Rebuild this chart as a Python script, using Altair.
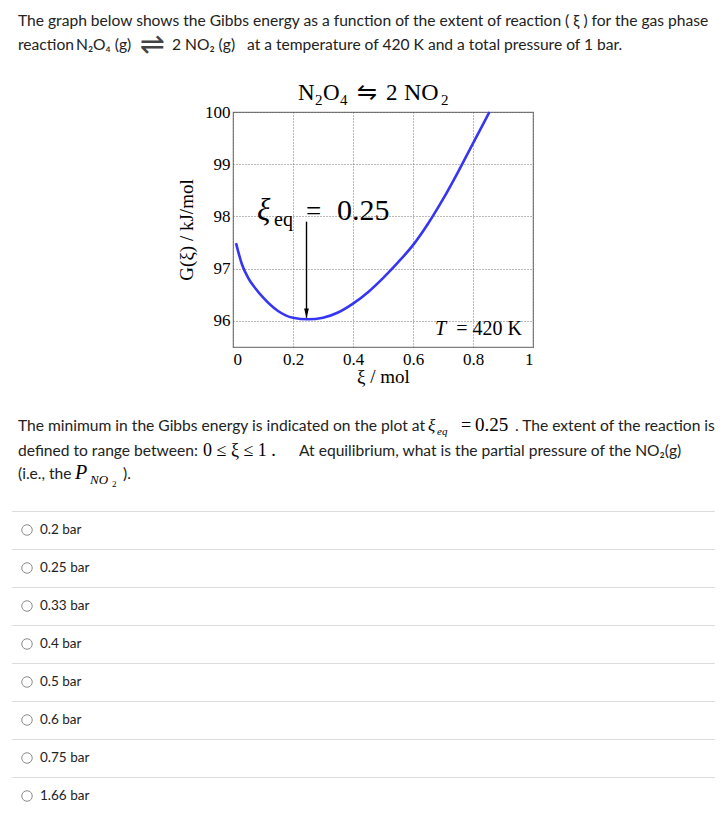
import altair as alt
import pandas as pd

# ---------------- values ----------------
xi = [0.01, 0.03, 0.05, 0.075, 0.1, 0.15, 0.2, 0.25, 0.3, 0.35, 0.4, 0.45,
      0.5, 0.55, 0.6, 0.65, 0.7, 0.75, 0.8, 0.855]
G = [97.49, 97.08, 96.83, 96.62, 96.45, 96.19, 96.06, 96.03, 96.06, 96.16,
     96.33, 96.55, 96.82, 97.12, 97.45, 97.86, 98.33, 98.85, 99.40, 100.0]

arrow_x = [0.245]
arrow_top = [97.9]
arrow_tip = [96.06]

x_ticks = [0, 0.2, 0.4, 0.6, 0.8, 1]
y_ticks = [96, 97, 98, 99, 100]

options = ["0.2 bar", "0.25 bar", "0.33 bar", "0.4 bar",
           "0.5 bar", "0.6 bar", "0.75 bar", "1.66 bar"]

# ---------------- layout (page pixels) ----------------
PLOT_LEFT, PLOT_TOP = 233, 112
W, H = 300, 235
PAGE_W, PAGE_H = 707, 805
PAD = {"left": PLOT_LEFT - 8, "top": PLOT_TOP - 8,
       "right": PAGE_W - (PLOT_LEFT - 8) - W,
       "bottom": PAGE_H - (PLOT_TOP - 8) - H}

SANS = "Lato"
SERIF = "Liberation Serif"
TXT = "#222222"
FS = 15.6


def seg_df(rows):
    return pd.DataFrame({
        "t": [r[0] for r in rows],
        "vx": [r[1] - PLOT_LEFT for r in rows],
        "vy": [r[2] - PLOT_TOP for r in rows],
        "fs": [r[3] for r in rows],
    })


def text_layer(rows, font, style="normal", align="left", color=TXT):
    return alt.Chart(seg_df(rows)).mark_text(
        align=align, baseline="alphabetic", font=font, fontStyle=style, color=color
    ).encode(
        x=alt.X("vx:Q", scale=None),
        y=alt.Y("vy:Q", scale=None),
        text="t:N",
        size=alt.Size("fs:Q", scale=None),
    )


sans_rows = [
    ("The graph below shows the Gibbs energy as a function of the extent of reaction ( ξ ) for the gas phase", 18, 25.5, FS),
    ("reaction", 18, 50, FS),
    ("N₂O₄ (g)", 76, 50, FS),
    ("2 NO₂ (g)", 172, 50, FS),
    ("at a temperature of 420 K and a total pressure of 1 bar.", 247, 50, FS),
    ("The minimum in the Gibbs energy is indicated on the plot at", 18, 431, FS),
    (". The extent of the reaction is", 515, 431, FS),
    ("defined to range between:", 18, 456, FS),
    ("At equilibrium, what is the partial pressure of the NO₂(g)", 299, 456, FS),
    ("(i.e., the", 18, 478.5, FS),
    (").", 123, 478.5, FS),
]
sans_rows += [(o, 40, 534 + 38 * i, 13.5) for i, o in enumerate(options)]

symbol_rows = [("⇌", 140, 54, 30)]

serif_rows = [
    ("=", 461, 431, 18),
    ("0.25", 475, 431, 19),
    ("0 ≤ ξ ≤ 1 .", 203, 456, 18),
    ("2", 112, 487, 9),
    # plot title N2O4 <=> 2 NO2
    ("N", 298, 100, 23),
    ("2", 315, 104.5, 15),
    ("O", 323, 100, 23),
    ("4", 340, 104.5, 15),
    ("2", 386, 100, 23),
    ("NO", 404, 100, 24),
    ("2", 441, 104.5, 15),
]
symbol_title_rows = [("⇋", 357, 100, 24)]
serif_it_rows = [
    ("ξ", 428, 431, 17),
    ("eq", 437, 435, 11),
    ("P", 75, 479, 20),
    ("NO", 90, 484, 13),
]

# ---------------- plot ----------------
curve_df = pd.DataFrame({"xi": xi, "G": G})
arrow_df = pd.DataFrame({"xi": arrow_x, "top": arrow_top, "tip": arrow_tip})

x_enc = alt.X("xi:Q", scale=alt.Scale(domain=[0, 1], nice=False),
              axis=alt.Axis(values=x_ticks, format="~g", title="ξ / mol",
                            grid=True, domain=False, ticks=False,
                            labelPadding=4, titlePadding=0, titleFontSize=19))
y_enc = alt.Y("G:Q", scale=alt.Scale(domain=[95.5, 100], nice=False, zero=False),
              axis=alt.Axis(values=y_ticks, format="d", title="G(ξ) / kJ/mol",
                            grid=True, domain=False, ticks=False,
                            labelPadding=3, titlePadding=8, titleFontSize=19))

curve = alt.Chart(curve_df).mark_line(
    color="#3636f2", strokeWidth=2.6, interpolate="monotone"
).encode(x=x_enc, y=y_enc)

arrow_line = alt.Chart(arrow_df).mark_rule(color="black", strokeWidth=1.4).encode(
    x="xi:Q", y="top:Q", y2="tip:Q")
arrow_head = alt.Chart(arrow_df).mark_point(
    shape="M -0.5 -1 L 0 1 L 0.5 -1 Z", size=90, filled=True, color="black",
    opacity=1, yOffset=-4.5
).encode(x="xi:Q", y="tip:Q")

ann_norm = pd.DataFrame({"xi": [0.243, 0.347, 0.137, 0.963],
                         "G": [97.93, 97.93, 97.81, 95.73],
                         "t": ["=", "0.25", "eq", "= 420 K"],
                         "fs": [27, 30, 20, 20],
                         "al": ["l", "l", "l", "r"]})
ann_ital = pd.DataFrame({"xi": [0.08, 0.673], "G": [97.93, 95.73],
                         "t": ["ξ", "T"], "fs": [31, 20]})

ann_left = alt.Chart(ann_norm[ann_norm.al == "l"]).mark_text(
    align="left", baseline="alphabetic", font=SERIF, color="black"
).encode(x="xi:Q", y="G:Q", text="t:N", size=alt.Size("fs:Q", scale=None))
ann_right = alt.Chart(ann_norm[ann_norm.al == "r"]).mark_text(
    align="right", baseline="alphabetic", font=SERIF, color="black"
).encode(x="xi:Q", y="G:Q", text="t:N", size=alt.Size("fs:Q", scale=None))
ann_it = alt.Chart(ann_ital).mark_text(
    align="left", baseline="alphabetic", font=SERIF, fontStyle="italic", color="black"
).encode(x="xi:Q", y="G:Q", text="t:N", size=alt.Size("fs:Q", scale=None))

# ---------------- answer rows ----------------
rows_df = pd.DataFrame({
    "ly": [511.5 + 38 * i - PLOT_TOP for i in range(len(options))],
    "cy": [530 + 38 * i - PLOT_TOP for i in range(len(options))],
})
separators = alt.Chart(rows_df).mark_rule(color="#dcdcdc", strokeWidth=1).encode(
    x=alt.value(12 - PLOT_LEFT), x2=alt.value(718 - PLOT_LEFT),
    y=alt.Y("ly:Q", scale=None))
radios = alt.Chart(rows_df).mark_point(
    shape="circle", size=110, filled=False, fill="white", stroke="#8c8c8c",
    strokeWidth=1, opacity=1
).encode(x=alt.value(27 - PLOT_LEFT), y=alt.Y("cy:Q", scale=None))

chart = alt.layer(
    curve, arrow_line, arrow_head, ann_left, ann_right, ann_it,
    text_layer(sans_rows, SANS),
    text_layer(symbol_rows, "DejaVu Sans", color="#444444"),
    text_layer(symbol_title_rows, "DejaVu Sans", color="black"),
    text_layer(serif_rows, SERIF, color="black"),
    text_layer(serif_it_rows, SERIF, style="italic", color="black"),
    separators, radios,
).properties(
    width=W, height=H,
    autosize=alt.AutoSizeParams(type="none"),
    padding=PAD,
    background="white",
).configure_view(
    stroke="#808080", strokeWidth=1.2
).configure_axis(
    labelFont=SERIF, labelFontSize=17, labelColor="black",
    titleFont=SERIF, titleColor="black", titleFontWeight="normal",
    gridColor="#555555", gridDash=[1, 2], gridWidth=0.9, gridOpacity=0.9,
)

chart.save("out.html", embed_options={"renderer": "svg", "actions": False})
